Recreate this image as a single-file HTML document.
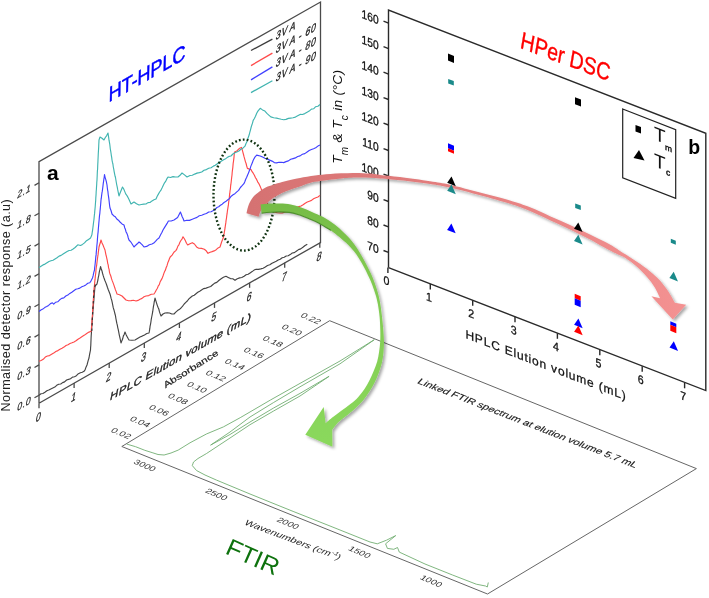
<!DOCTYPE html>
<html><head><meta charset="utf-8"><style>html,body{margin:0;padding:0;background:#fff;}svg{display:block;}</style></head><body>
<svg width="709" height="598" viewBox="0 0 709 598">
<defs>
<filter id="sh" x="-20%" y="-20%" width="140%" height="140%"><feGaussianBlur in="SourceAlpha" stdDeviation="1.6"/><feOffset dx="1.5" dy="2" result="b"/><feFlood flood-color="#000" flood-opacity="0.35"/><feComposite in2="b" operator="in"/><feMerge><feMergeNode/><feMergeNode in="SourceGraphic"/></feMerge></filter>
</defs>
<rect width="709" height="598" fill="#fff"/>
<g fill="none" stroke="#4a4a4a" stroke-width="1.3">
<polyline points="39.0,403.2 39.0,161.7 320.5,2.0 320.5,242.5 39.0,403.2"/>
<line x1="39.0" y1="403.2" x2="39.0" y2="408.2"/>
<line x1="74.1" y1="383.1" x2="74.1" y2="388.1"/>
<line x1="109.2" y1="363.1" x2="109.2" y2="368.1"/>
<line x1="144.3" y1="343.0" x2="144.3" y2="348.0"/>
<line x1="179.4" y1="323.0" x2="179.4" y2="328.0"/>
<line x1="214.5" y1="302.9" x2="214.5" y2="307.9"/>
<line x1="249.6" y1="282.8" x2="249.6" y2="287.8"/>
<line x1="284.7" y1="262.8" x2="284.7" y2="267.8"/>
<line x1="319.8" y1="242.7" x2="319.8" y2="247.7"/>
<line x1="34.5" y1="397.8" x2="39" y2="395.2"/>
<line x1="34.5" y1="367.5" x2="39" y2="364.9"/>
<line x1="34.5" y1="337.1" x2="39" y2="334.5"/>
<line x1="34.5" y1="306.8" x2="39" y2="304.2"/>
<line x1="34.5" y1="276.4" x2="39" y2="273.8"/>
<line x1="34.5" y1="246.1" x2="39" y2="243.5"/>
<line x1="34.5" y1="215.8" x2="39" y2="213.2"/>
<line x1="34.5" y1="185.4" x2="39" y2="182.8"/>
</g>
<g fill="none" stroke-width="1.15" stroke-linejoin="round">
<polyline stroke="#444" points="39.0,395.2 41.0,393.7 42.9,393.5 44.9,392.3 46.9,390.7 48.8,390.0 50.8,388.9 52.8,388.0 54.8,387.1 56.7,385.3 58.7,384.2 60.7,384.0 62.6,382.6 64.6,381.9 66.6,380.0 68.5,379.4 70.5,378.7 72.5,377.1 74.5,376.8 76.4,375.7 78.4,373.7 80.4,372.7 82.3,372.2 84.3,371.1 85.2,369.5 86.1,366.9 87.0,365.0 87.7,362.4 88.3,360.2 89.0,358.0 89.5,354.8 90.0,352.4 90.5,350.0 90.6,347.6 90.8,345.2 90.9,342.6 91.0,340.2 91.1,337.8 91.2,335.7 91.4,333.1 91.5,331.0 91.7,328.1 91.8,326.7 92.0,324.1 92.2,321.8 92.3,319.0 92.5,317.5 92.7,315.1 92.8,311.9 93.0,310.0 93.2,307.4 93.4,305.4 93.6,303.0 93.8,300.9 94.0,297.9 94.2,296.0 94.4,293.4 94.6,290.6 94.8,288.5 95.0,286.0 97.0,284.0 97.4,282.2 97.9,280.0 98.3,277.4 98.8,275.3 99.2,272.6 99.6,270.6 100.1,269.0 100.5,266.5 101.2,268.7 101.9,270.7 102.6,273.5 103.3,275.9 104.0,278.0 104.9,280.5 105.7,282.4 106.6,284.8 107.4,287.2 108.3,289.7 109.1,291.7 110.0,294.0 110.6,296.1 111.1,298.4 111.7,300.1 112.2,302.4 112.8,305.3 113.3,307.9 113.9,309.7 114.4,311.7 115.0,314.0 115.5,315.9 115.9,318.5 116.4,321.2 116.8,323.2 117.3,325.2 117.8,327.8 118.2,329.3 118.7,331.9 119.2,334.6 119.6,336.4 120.1,338.5 120.5,340.5 121.0,343.0 121.8,340.9 122.6,339.1 123.4,335.9 124.2,334.5 125.0,332.0 126.0,334.4 127.0,336.4 128.0,338.3 129.0,340.0 132.0,340.3 135.0,340.0 137.5,338.5 140.0,337.0 142.2,336.1 144.5,334.9 146.8,333.5 149.0,333.0 149.4,331.2 149.8,328.7 150.1,326.1 150.5,324.3 150.9,322.0 151.2,319.7 151.6,317.5 152.0,315.5 152.4,313.4 152.8,311.2 153.1,308.9 153.5,306.2 153.9,304.3 154.2,302.0 154.6,300.3 155.0,298.0 155.8,300.6 156.5,302.8 157.2,305.1 158.0,307.3 158.8,309.0 159.5,311.9 160.2,313.9 161.0,316.0 163.0,314.0 165.0,313.0 167.2,312.7 169.5,313.0 171.8,314.0 174.0,314.0 175.8,312.2 177.5,310.6 179.2,309.6 181.0,308.0 182.6,306.1 184.2,304.0 185.8,302.4 187.3,301.0 188.9,298.9 190.5,297.5 192.3,296.0 194.2,295.2 196.0,293.7 197.8,292.3 199.7,291.2 201.5,290.0 203.8,288.6 206.1,288.1 208.4,287.3 210.7,286.5 212.7,284.7 214.7,283.1 216.8,282.4 218.8,280.5 220.8,279.0 223.4,277.3 226.0,276.3 228.2,277.4 230.5,278.6 232.8,278.8 235.0,280.3 237.3,278.8 239.6,277.9 241.8,277.5 244.1,276.3 246.1,274.7 248.1,274.2 250.1,272.9 252.1,271.6 254.1,270.1 256.1,269.2 258.4,269.4 260.8,268.9 263.1,268.2 265.3,267.0 267.5,265.5 269.8,264.8 272.0,263.3 274.2,262.2 276.2,261.3 278.2,260.0 280.2,259.3 282.2,257.7 284.2,257.2 286.2,256.0 288.2,255.7 290.2,254.6 292.3,253.0 294.3,252.6 296.3,251.2 298.5,249.6 300.7,248.9 302.9,247.3 305.1,245.5 307.3,244.2"/>
<polyline stroke="#ff4a4a" points="39.0,361.2 41.1,360.5 43.2,359.3 45.3,357.1 47.4,356.0 49.5,355.6 51.6,354.3 53.7,353.1 55.8,351.5 57.9,350.6 60.0,349.3 62.0,348.3 64.0,347.1 66.0,345.5 68.0,344.7 70.0,343.5 72.0,342.8 74.0,341.9 76.0,340.8 78.0,339.2 80.0,338.0 82.2,336.6 84.5,335.1 86.7,333.5 89.0,332.1 91.2,331.3 91.4,328.8 91.6,326.2 91.8,323.8 91.9,321.8 92.1,319.0 92.3,316.5 92.5,314.0 92.6,311.3 92.8,308.7 92.9,306.6 93.1,304.0 93.2,302.0 93.3,300.1 93.5,297.4 93.6,294.5 93.8,292.8 93.9,290.0 94.1,288.1 94.4,285.8 94.6,283.8 94.8,281.4 95.1,279.2 95.3,276.5 95.5,275.0 95.8,272.7 96.0,270.0 96.3,267.3 96.6,265.7 96.9,263.3 97.2,260.8 97.5,258.5 97.8,256.2 98.1,254.4 98.4,251.6 98.7,249.7 99.0,247.0 99.7,244.5 100.3,242.8 101.0,240.0 102.0,242.9 103.0,245.0 104.0,247.6 105.0,250.0 105.5,252.6 105.9,254.6 106.4,256.5 106.8,258.4 107.3,260.7 107.7,263.3 108.2,264.9 108.6,267.9 109.1,269.4 109.5,272.3 110.0,274.0 110.8,276.0 111.6,278.9 112.3,280.9 113.1,282.9 113.9,285.1 114.7,287.5 115.4,289.7 116.2,291.6 117.0,294.0 119.5,294.7 122.0,296.0 124.0,298.0 126.0,300.0 128.5,300.7 131.0,300.6 133.5,300.3 136.0,301.0 138.0,300.4 140.0,299.2 142.0,298.4 144.0,296.7 146.0,296.0 148.7,295.6 151.3,294.2 154.0,294.0 155.1,292.3 156.3,290.0 157.4,288.3 158.3,285.9 159.3,284.6 160.2,281.7 161.1,280.1 162.1,278.4 163.0,276.0 163.8,273.6 164.6,271.5 165.4,270.1 166.2,267.5 167.0,265.7 167.8,262.8 168.6,261.1 169.4,258.8 170.2,257.0 172.1,255.1 173.9,252.3 175.8,250.6 176.8,249.1 177.9,246.1 178.9,244.9 179.9,242.2 180.9,240.5 182.0,239.1 183.0,236.8 184.2,238.5 185.3,240.6 186.5,243.2 187.7,245.0 190.0,243.7 192.3,242.7 194.4,244.0 196.6,246.9 198.7,248.2 201.5,248.4 204.3,249.3 206.2,250.8 208.0,253.3 210.1,252.2 212.1,251.6 214.1,250.9 216.2,249.7 218.1,247.9 220.0,247.0 220.9,244.3 221.8,241.4 222.7,239.3 223.6,236.8 224.0,234.7 224.3,232.4 224.7,230.2 225.1,227.7 225.4,225.4 225.8,222.9 226.1,220.3 226.5,218.0 226.8,215.4 227.1,213.7 227.4,211.0 227.8,208.6 228.1,206.7 228.4,204.9 228.7,201.8 229.0,200.0 229.3,197.8 229.5,195.3 229.8,193.2 230.1,190.5 230.4,189.1 230.6,186.1 230.9,184.2 231.2,181.7 231.5,179.0 231.7,177.3 232.0,175.0 232.2,172.3 232.5,169.9 232.8,167.6 233.0,165.4 233.2,163.1 233.5,161.3 233.8,158.9 234.0,157.1 234.2,154.8 234.5,152.0 236.8,151.0 239.2,148.6 241.5,147.4 242.2,149.7 242.8,151.8 243.5,154.5 244.1,156.9 244.8,159.4 245.4,161.6 246.1,163.5 246.7,166.0 247.4,168.4 251.0,169.6 252.1,171.7 253.2,173.2 254.4,175.2 255.5,177.7 256.6,179.4 257.8,182.1 258.9,183.7 260.0,186.0 260.8,187.9 261.7,190.3 262.5,192.7 263.3,195.0 264.2,197.7 265.0,200.0 266.4,202.2 267.8,204.2 269.2,206.8 270.6,208.5 272.0,211.0 274.7,212.1 277.3,212.8 280.0,213.0 282.3,212.9 284.7,212.3 287.0,212.0 289.0,211.0 291.0,210.1 293.0,208.5 295.0,208.0 298.0,206.9 301.0,206.0 303.1,204.8 305.2,203.2 307.3,202.0 309.4,201.2 311.5,200.4 313.6,198.7 315.8,197.7 317.9,197.0 320.0,195.4"/>
<polyline stroke="#4040ff" points="39.0,311.5 40.9,310.0 42.8,309.1 44.7,307.6 46.7,306.6 48.6,305.4 50.5,303.6 52.4,302.8 53.7,304.1 55.7,302.2 57.7,301.8 59.7,299.8 61.7,298.4 63.8,297.9 65.8,296.0 67.8,295.1 69.8,293.4 71.8,292.2 73.8,290.7 75.8,289.3 77.8,288.8 79.8,288.1 81.8,286.7 83.8,286.0 85.8,284.9 87.8,283.2 89.8,282.7 91.2,280.6 92.5,278.0 93.2,275.4 93.8,272.4 94.5,270.0 94.7,267.3 94.9,266.0 95.2,263.3 95.4,261.4 95.6,259.3 95.8,256.9 96.1,254.9 96.3,252.1 96.5,250.0 96.7,248.0 96.9,245.3 97.1,243.6 97.3,241.2 97.5,238.1 97.7,235.8 97.9,233.6 98.1,232.1 98.3,229.2 98.5,227.0 98.7,224.9 98.9,222.3 99.1,220.3 99.3,217.9 99.5,215.6 99.8,213.6 100.0,211.3 100.2,209.4 100.4,207.0 100.6,205.0 100.8,202.6 101.0,200.0 101.3,198.2 101.6,195.6 102.0,192.7 102.3,191.2 102.6,189.0 102.9,186.6 103.2,183.9 103.5,181.8 103.9,178.9 104.2,177.3 104.5,174.6 105.1,177.3 105.8,179.6 106.4,181.9 107.0,185.0 107.3,187.7 107.6,190.1 107.9,191.4 108.2,194.5 108.5,196.4 108.8,198.4 109.1,200.9 109.4,203.7 109.7,206.1 110.0,208.0 111.0,210.5 112.0,214.0 113.6,215.7 115.2,216.7 116.8,219.0 118.4,220.2 120.0,222.0 122.0,223.9 124.0,225.0 124.7,227.7 125.4,229.3 126.1,232.0 126.9,233.4 127.6,235.2 128.3,238.0 129.0,240.0 130.7,241.8 132.3,244.3 134.0,247.0 135.7,245.2 137.3,243.8 139.0,242.0 140.7,243.3 142.3,244.8 144.0,247.0 146.7,246.4 149.3,244.8 152.0,244.0 153.8,243.0 155.5,241.4 157.2,239.4 159.0,238.0 160.0,236.0 161.0,234.0 162.0,232.2 163.0,230.0 164.3,227.9 165.7,225.6 167.1,223.4 168.4,221.0 171.2,221.0 174.0,220.0 177.6,217.5 179.0,214.8 180.4,212.0 181.3,214.2 182.2,216.7 183.1,218.5 184.0,221.0 186.8,220.2 189.5,220.4 192.3,219.3 194.7,218.3 197.0,217.4 199.3,215.8 201.7,215.3 204.0,214.3 206.4,213.5 208.7,212.0 211.1,211.7 213.4,210.6 215.2,209.4 216.9,207.5 218.7,206.8 220.4,205.3 222.2,204.2 224.0,202.5 225.7,201.6 227.5,200.0 229.4,198.6 231.2,196.2 233.1,194.7 234.9,193.7 236.8,191.9 238.6,190.4 240.4,187.5 242.1,185.7 243.9,183.7 244.8,181.7 245.7,179.3 246.7,177.2 247.6,175.0 248.5,173.1 249.3,170.8 250.1,168.9 250.8,166.4 251.6,164.4 252.4,162.6 253.2,160.2 254.9,157.1 256.7,155.1 260.2,156.0 262.6,157.1 264.9,158.3 267.3,159.1 269.6,160.1 272.0,161.1 274.3,162.6 276.6,162.9 279.0,162.3 281.4,162.3 283.7,162.6 286.0,161.6 288.4,160.9 290.7,159.3 293.1,158.6 295.4,157.9 297.7,156.5 300.1,155.9 302.4,154.3 304.8,153.6 307.1,152.0 309.2,150.5 311.4,149.5 313.6,148.7 315.7,147.8 317.9,146.1 320.0,145.0"/>
<polyline stroke="#40b4b0" points="39.0,267.6 41.0,266.2 43.0,264.9 45.0,264.1 47.0,262.8 49.0,261.5 51.0,260.8 53.0,260.2 55.0,259.0 57.0,257.8 59.1,256.1 61.1,255.4 63.1,254.0 65.1,252.7 67.1,251.5 69.1,250.5 71.1,250.2 73.1,249.0 75.1,247.5 77.8,244.8 80.5,245.5 82.5,244.4 84.5,242.9 86.5,240.7 88.5,239.4 90.5,238.1 91.9,234.8 92.2,232.5 92.6,230.1 92.9,227.8 93.2,225.4 93.6,222.0 93.9,220.0 94.1,217.9 94.3,215.8 94.6,213.4 94.8,210.8 95.0,208.9 95.2,206.7 95.4,204.0 95.5,202.7 95.7,200.4 95.8,197.9 96.0,195.4 96.1,193.8 96.2,191.2 96.4,189.3 96.5,187.1 96.7,184.5 96.8,182.1 97.0,180.0 97.1,177.9 97.2,175.5 97.3,173.0 97.4,170.9 97.6,169.2 97.7,166.2 97.8,163.9 97.9,162.4 98.0,159.8 98.1,157.8 98.2,155.5 98.3,153.2 98.4,151.7 98.6,148.6 98.7,146.6 98.8,144.1 98.9,142.4 99.0,140.0 100.0,137.0 102.0,138.3 104.0,140.0 105.3,137.5 106.7,135.6 108.0,133.0 108.3,135.1 108.7,137.6 109.0,140.2 109.3,141.6 109.7,143.8 110.0,146.2 110.3,149.0 110.7,151.1 111.0,153.0 111.3,155.3 111.7,157.4 112.0,160.0 112.4,162.2 112.9,164.0 113.3,167.0 113.8,169.4 114.2,171.8 114.6,173.8 115.1,176.3 115.5,177.5 115.9,180.0 116.4,183.0 116.8,185.1 117.2,186.9 117.7,189.7 118.1,191.6 118.6,194.1 119.0,196.0 119.9,193.5 120.8,191.2 121.6,189.2 122.5,187.0 123.6,188.7 124.6,191.1 125.7,193.9 126.8,195.3 127.8,197.1 128.9,199.2 129.9,201.5 131.0,204.0 134.0,202.0 136.5,203.8 139.0,205.0 141.3,204.5 143.7,204.1 146.0,204.0 148.0,202.6 150.0,202.5 152.0,200.9 154.0,199.7 156.0,199.0 157.2,196.3 158.4,194.1 159.6,192.0 160.8,190.4 162.0,188.0 163.2,185.4 164.4,183.1 165.6,181.4 166.8,178.9 168.0,177.0 170.5,177.5 173.0,176.6 175.5,177.0 178.0,177.0 180.0,175.3 182.0,173.0 184.5,174.9 187.0,177.0 190.0,175.5 192.3,175.3 194.7,174.1 197.0,173.1 199.4,172.6 201.7,172.0 204.0,170.3 206.4,169.6 208.7,168.2 211.1,167.7 213.4,166.1 215.3,165.3 217.3,163.8 219.2,162.1 221.2,161.2 223.2,160.0 225.1,159.1 227.1,157.6 229.0,156.4 230.9,156.0 232.9,154.0 234.9,152.7 236.8,152.0 238.9,151.0 240.9,149.2 242.9,148.2 245.0,146.2 245.9,143.7 246.8,141.9 247.6,139.3 248.5,136.8 249.2,134.8 249.8,132.4 250.5,129.8 251.2,127.0 251.9,124.8 252.5,123.2 253.2,120.4 254.4,118.5 255.5,116.2 256.7,113.2 257.9,111.1 260.2,108.3 262.5,109.9 264.9,111.1 266.9,113.4 268.8,115.1 270.8,116.9 273.7,117.8 276.6,118.1 279.0,118.7 281.3,119.3 283.7,119.7 286.0,119.4 288.4,118.4 290.7,118.1 293.0,117.8 295.4,117.1 297.7,115.8 300.1,114.4 302.4,114.5 304.8,113.6 307.1,112.2 309.2,111.1 311.4,109.1 313.6,108.8 315.7,106.7 317.9,106.3 320.0,104.5"/>
<polyline stroke="#333" stroke-dasharray="2.5 3" points="91.8,331 92.6,314 94,290 95.5,284"/>
</g>
<g stroke-width="1.3">
<line x1="251" y1="50.5" x2="272.4" y2="39.1" stroke="#3c3c3c"/>
<line x1="251" y1="65.6" x2="272.4" y2="53.1" stroke="#ff4a4a"/>
<line x1="251" y1="79.9" x2="272.4" y2="66.9" stroke="#4040ff"/>
<line x1="251" y1="92.6" x2="272.4" y2="80.8" stroke="#40b4b0"/>
</g>
<text transform="matrix(0.7000,-0.3998,-0.2200,1.0000,275.30,40.20)" font-family="Liberation Sans, sans-serif" font-size="12.3" fill="#222" letter-spacing="1.1" stroke="#222" stroke-width="0.35">3V<tspan dx="2.5">A</tspan></text>
<text transform="matrix(0.7000,-0.3998,-0.2200,1.0000,275.30,53.60)" font-family="Liberation Sans, sans-serif" font-size="12.3" fill="#222" letter-spacing="1.1" stroke="#222" stroke-width="0.35">3V<tspan dx="2.5">A</tspan><tspan dx="-1.2"> - 60</tspan></text>
<text transform="matrix(0.7000,-0.3998,-0.2200,1.0000,275.30,67.60)" font-family="Liberation Sans, sans-serif" font-size="12.3" fill="#222" letter-spacing="1.1" stroke="#222" stroke-width="0.35">3V<tspan dx="2.5">A</tspan><tspan dx="-1.2"> - 80</tspan></text>
<text transform="matrix(0.7000,-0.3998,-0.2200,1.0000,275.30,81.90)" font-family="Liberation Sans, sans-serif" font-size="12.3" fill="#222" letter-spacing="1.1" stroke="#222" stroke-width="0.35">3V<tspan dx="2.5">A</tspan><tspan dx="-1.2"> - 90</tspan></text>
<text transform="matrix(0.7800,-0.4455,-0.2000,1.0000,30.70,403.20)" font-family="Liberation Sans, sans-serif" font-size="11" fill="#222" text-anchor="end" letter-spacing="0.9" stroke="#222" stroke-width="0.25">0.0</text>
<text transform="matrix(0.7800,-0.4455,-0.2000,1.0000,30.70,372.86)" font-family="Liberation Sans, sans-serif" font-size="11" fill="#222" text-anchor="end" letter-spacing="0.9" stroke="#222" stroke-width="0.25">0.3</text>
<text transform="matrix(0.7800,-0.4455,-0.2000,1.0000,30.70,342.52)" font-family="Liberation Sans, sans-serif" font-size="11" fill="#222" text-anchor="end" letter-spacing="0.9" stroke="#222" stroke-width="0.25">0.6</text>
<text transform="matrix(0.7800,-0.4455,-0.2000,1.0000,30.70,312.18)" font-family="Liberation Sans, sans-serif" font-size="11" fill="#222" text-anchor="end" letter-spacing="0.9" stroke="#222" stroke-width="0.25">0.9</text>
<text transform="matrix(0.7800,-0.4455,-0.2000,1.0000,30.70,281.84)" font-family="Liberation Sans, sans-serif" font-size="11" fill="#222" text-anchor="end" letter-spacing="0.9" stroke="#222" stroke-width="0.25">1.2</text>
<text transform="matrix(0.7800,-0.4455,-0.2000,1.0000,30.70,251.50)" font-family="Liberation Sans, sans-serif" font-size="11" fill="#222" text-anchor="end" letter-spacing="0.9" stroke="#222" stroke-width="0.25">1.5</text>
<text transform="matrix(0.7800,-0.4455,-0.2000,1.0000,30.70,221.16)" font-family="Liberation Sans, sans-serif" font-size="11" fill="#222" text-anchor="end" letter-spacing="0.9" stroke="#222" stroke-width="0.25">1.8</text>
<text transform="matrix(0.7800,-0.4455,-0.2000,1.0000,30.70,190.82)" font-family="Liberation Sans, sans-serif" font-size="11" fill="#222" text-anchor="end" letter-spacing="0.9" stroke="#222" stroke-width="0.25">2.1</text>
<text transform="matrix(0.7000,-0.3998,-0.2000,1.0000,37.70,421.20)" font-family="Liberation Sans, sans-serif" font-size="12.4" fill="#222" text-anchor="middle" stroke="#222" stroke-width="0.3">0</text>
<text transform="matrix(0.7000,-0.3998,-0.2000,1.0000,72.80,401.14)" font-family="Liberation Sans, sans-serif" font-size="12.4" fill="#222" text-anchor="middle" stroke="#222" stroke-width="0.3">1</text>
<text transform="matrix(0.7000,-0.3998,-0.2000,1.0000,107.90,381.08)" font-family="Liberation Sans, sans-serif" font-size="12.4" fill="#222" text-anchor="middle" stroke="#222" stroke-width="0.3">2</text>
<text transform="matrix(0.7000,-0.3998,-0.2000,1.0000,143.00,361.02)" font-family="Liberation Sans, sans-serif" font-size="12.4" fill="#222" text-anchor="middle" stroke="#222" stroke-width="0.3">3</text>
<text transform="matrix(0.7000,-0.3998,-0.2000,1.0000,178.10,340.96)" font-family="Liberation Sans, sans-serif" font-size="12.4" fill="#222" text-anchor="middle" stroke="#222" stroke-width="0.3">4</text>
<text transform="matrix(0.7000,-0.3998,-0.2000,1.0000,213.20,320.90)" font-family="Liberation Sans, sans-serif" font-size="12.4" fill="#222" text-anchor="middle" stroke="#222" stroke-width="0.3">5</text>
<text transform="matrix(0.7000,-0.3998,-0.2000,1.0000,248.30,300.84)" font-family="Liberation Sans, sans-serif" font-size="12.4" fill="#222" text-anchor="middle" stroke="#222" stroke-width="0.3">6</text>
<text transform="matrix(0.7000,-0.3998,-0.2000,1.0000,283.40,280.78)" font-family="Liberation Sans, sans-serif" font-size="12.4" fill="#222" text-anchor="middle" stroke="#222" stroke-width="0.3">7</text>
<text transform="matrix(0.7000,-0.3998,-0.2000,1.0000,318.50,260.72)" font-family="Liberation Sans, sans-serif" font-size="12.4" fill="#222" text-anchor="middle" stroke="#222" stroke-width="0.3">8</text>
<text transform="matrix(0.9700,-0.5541,-0.1900,1.0000,109.60,400.80)" font-family="Liberation Sans, sans-serif" font-size="11.6" fill="#222" letter-spacing="0.3" stroke="#222" stroke-width="0.42"><tspan letter-spacing="0.5">HPLC </tspan>Elution volume (mL)</text>
<text transform="matrix(0.0000,-1.0000,1.0000,0.0000,10.40,411.50)" font-family="Liberation Sans, sans-serif" font-size="12.6" fill="#222" letter-spacing="0.45">Normalised detector response (a.u)</text>
<text transform="matrix(0.8500,-0.4855,-0.0200,1.0000,108.60,102.60)" font-family="Liberation Sans, sans-serif" font-size="21.4" fill="#0000ff" letter-spacing="-0.2" stroke="#0000ff" stroke-width="0.5">HT-HPLC</text>
<text transform="matrix(1.0000,0.0000,0.0000,1.0000,47.00,179.60)" font-family="Liberation Sans, sans-serif" font-size="21" fill="#000" font-weight="bold">a</text>
<g fill="none" stroke="#2a2a2a" stroke-width="1.4">
<polyline points="388.5,267.6 388.5,10.0 705.8,133.3 705.8,390.6 388.5,267.6"/>
<line x1="383.5" y1="21.2" x2="388.5" y2="23.1"/>
<line x1="383.5" y1="46.7" x2="388.5" y2="48.6"/>
<line x1="383.5" y1="72.2" x2="388.5" y2="74.1"/>
<line x1="383.5" y1="97.6" x2="388.5" y2="99.5"/>
<line x1="383.5" y1="123.1" x2="388.5" y2="125.0"/>
<line x1="383.5" y1="148.6" x2="388.5" y2="150.5"/>
<line x1="383.5" y1="174.1" x2="388.5" y2="176.0"/>
<line x1="383.5" y1="199.6" x2="388.5" y2="201.5"/>
<line x1="383.5" y1="225.0" x2="388.5" y2="226.9"/>
<line x1="383.5" y1="250.5" x2="388.5" y2="252.4"/>
<line x1="387.9" y1="267.4" x2="387.9" y2="272.9"/>
<line x1="430.3" y1="283.9" x2="430.3" y2="289.4"/>
<line x1="472.7" y1="300.3" x2="472.7" y2="305.8"/>
<line x1="515.0" y1="316.8" x2="515.0" y2="322.3"/>
<line x1="557.4" y1="333.3" x2="557.4" y2="338.8"/>
<line x1="599.8" y1="349.8" x2="599.8" y2="355.3"/>
<line x1="642.2" y1="366.3" x2="642.2" y2="371.8"/>
<line x1="684.6" y1="382.8" x2="684.6" y2="388.3"/>
</g>
<text transform="matrix(0.8500,0.3306,-0.0000,1.0000,378.60,24.41)" font-family="Liberation Sans, sans-serif" font-size="12" fill="#111" text-anchor="end" stroke="#111" stroke-width="0.3">160</text>
<text transform="matrix(0.8500,0.3306,-0.0000,1.0000,378.60,49.89)" font-family="Liberation Sans, sans-serif" font-size="12" fill="#111" text-anchor="end" stroke="#111" stroke-width="0.3">150</text>
<text transform="matrix(0.8500,0.3306,-0.0000,1.0000,378.60,75.37)" font-family="Liberation Sans, sans-serif" font-size="12" fill="#111" text-anchor="end" stroke="#111" stroke-width="0.3">140</text>
<text transform="matrix(0.8500,0.3306,-0.0000,1.0000,378.60,100.85)" font-family="Liberation Sans, sans-serif" font-size="12" fill="#111" text-anchor="end" stroke="#111" stroke-width="0.3">130</text>
<text transform="matrix(0.8500,0.3306,-0.0000,1.0000,378.60,126.33)" font-family="Liberation Sans, sans-serif" font-size="12" fill="#111" text-anchor="end" stroke="#111" stroke-width="0.3">120</text>
<text transform="matrix(0.8500,0.3306,-0.0000,1.0000,378.60,151.81)" font-family="Liberation Sans, sans-serif" font-size="12" fill="#111" text-anchor="end" stroke="#111" stroke-width="0.3">110</text>
<text transform="matrix(0.8500,0.3306,-0.0000,1.0000,378.60,177.29)" font-family="Liberation Sans, sans-serif" font-size="12" fill="#111" text-anchor="end" stroke="#111" stroke-width="0.3">100</text>
<text transform="matrix(0.8500,0.3306,-0.0000,1.0000,378.60,202.77)" font-family="Liberation Sans, sans-serif" font-size="12" fill="#111" text-anchor="end" stroke="#111" stroke-width="0.3">90</text>
<text transform="matrix(0.8500,0.3306,-0.0000,1.0000,378.60,228.25)" font-family="Liberation Sans, sans-serif" font-size="12" fill="#111" text-anchor="end" stroke="#111" stroke-width="0.3">80</text>
<text transform="matrix(0.8500,0.3306,-0.0000,1.0000,378.60,253.73)" font-family="Liberation Sans, sans-serif" font-size="12" fill="#111" text-anchor="end" stroke="#111" stroke-width="0.3">70</text>
<text transform="matrix(0.9000,0.3501,-0.0000,1.0000,386.50,284.67)" font-family="Liberation Sans, sans-serif" font-size="11.8" fill="#111" text-anchor="middle" stroke="#111" stroke-width="0.3">0</text>
<text transform="matrix(0.9000,0.3501,-0.0000,1.0000,428.88,301.15)" font-family="Liberation Sans, sans-serif" font-size="11.8" fill="#111" text-anchor="middle" stroke="#111" stroke-width="0.3">1</text>
<text transform="matrix(0.9000,0.3501,-0.0000,1.0000,471.26,317.64)" font-family="Liberation Sans, sans-serif" font-size="11.8" fill="#111" text-anchor="middle" stroke="#111" stroke-width="0.3">2</text>
<text transform="matrix(0.9000,0.3501,-0.0000,1.0000,513.64,334.12)" font-family="Liberation Sans, sans-serif" font-size="11.8" fill="#111" text-anchor="middle" stroke="#111" stroke-width="0.3">3</text>
<text transform="matrix(0.9000,0.3501,-0.0000,1.0000,556.02,350.61)" font-family="Liberation Sans, sans-serif" font-size="11.8" fill="#111" text-anchor="middle" stroke="#111" stroke-width="0.3">4</text>
<text transform="matrix(0.9000,0.3501,-0.0000,1.0000,598.40,367.10)" font-family="Liberation Sans, sans-serif" font-size="11.8" fill="#111" text-anchor="middle" stroke="#111" stroke-width="0.3">5</text>
<text transform="matrix(0.9000,0.3501,-0.0000,1.0000,640.78,383.58)" font-family="Liberation Sans, sans-serif" font-size="11.8" fill="#111" text-anchor="middle" stroke="#111" stroke-width="0.3">6</text>
<text transform="matrix(0.9000,0.3501,-0.0000,1.0000,683.16,400.07)" font-family="Liberation Sans, sans-serif" font-size="11.8" fill="#111" text-anchor="middle" stroke="#111" stroke-width="0.3">7</text>
<text transform="matrix(1.0000,0.3890,-0.0000,1.0000,465.40,337.90)" font-family="Liberation Sans, sans-serif" font-size="12" fill="#111" letter-spacing="0.8" stroke="#111" stroke-width="0.25">HPLC Elution volume (mL)</text>
<text transform="matrix(0,-1,1,0,342,163.8)" font-family="Liberation Sans, sans-serif" font-style="italic" font-size="13.7" fill="#111" letter-spacing="0.3">T<tspan font-size="10" dy="5.5">m</tspan><tspan dy="-5.5"> &amp; T</tspan><tspan font-size="10" dy="5.5">c</tspan><tspan dy="-5.5"> in (°C)</tspan></text>
<text transform="matrix(0.8200,0.3080,-0.1700,1.0000,519.60,47.70)" font-family="Liberation Sans, sans-serif" font-size="23.3" fill="#ff0000" stroke="#ff0000" stroke-width="0.35">HPer DSC</text>
<text transform="matrix(1.0000,0.0000,0.0000,1.0000,688.30,154.00)" font-family="Liberation Sans, sans-serif" font-size="19.5" fill="#000" font-weight="bold">b</text>
<polygon points="622.7,109.0 675.7,129.7 675.7,198.3 622.7,177.9" fill="none" stroke="#222" stroke-width="1.2"/>
<polygon points="635.5,125.0 641.0,127.0 641.0,133.5 635.5,131.5" fill="#000"/>
<polygon points="639.0,150.0 644.5,160.5 633.5,158.0" fill="#000"/>
<text transform="matrix(1.0000,0.3890,-0.0000,1.0000,654.00,139.60)" font-family="Liberation Sans, sans-serif" font-size="19" fill="#111">T</text>
<text transform="matrix(1.0000,0.3890,-0.0000,1.0000,654.00,166.20)" font-family="Liberation Sans, sans-serif" font-size="19" fill="#111">T</text>
<text transform="matrix(1.0000,0.3890,-0.0000,1.0000,665.00,149.80)" font-family="Liberation Sans, sans-serif" font-size="8.5" fill="#111" stroke="#111" stroke-width="0.4">m</text>
<text transform="matrix(1.0000,0.3890,-0.0000,1.0000,666.00,174.50)" font-family="Liberation Sans, sans-serif" font-size="8.5" fill="#111" stroke="#111" stroke-width="0.4">c</text>
<polygon points="121.8,446.5 329.7,320.7 696.4,468.6 487.5,594.0" fill="none" stroke="#666" stroke-width="1"/>
<g fill="none" stroke="#72ae72" stroke-width="0.9" stroke-linejoin="round">
<polyline points="126.8,444.1 135.6,446.7 144.8,450.3 152.1,452.6 158.0,454.5 164.1,455.0 171.0,453.0 178.2,450.1 190.0,442.8 206.4,434.0 223.4,426.9 240.2,417.7 270.3,400.1 300.0,383.4 340.0,361.0 374.3,339.7 340.0,363.8 300.0,386.8 273.6,402.5 250.0,417.0 230.0,432.0 210.6,445.1 230.0,434.5 250.0,422.0 273.6,408.0 300.0,393.4 329.1,376.3 300.0,396.0 273.6,411.0 250.0,424.7 230.0,438.0 206.4,453.6 198.0,458.5 193.5,462.0 192.3,465.6 196.5,470.5 205.0,475.0 216.3,480.0 250.0,494.0 293.1,511.4 330.0,526.0 370.0,542.0 377.3,543.8 386.5,540.2 395.7,535.6 385.6,543.8 387.4,548.4 393.8,549.3 397.5,547.5 399.3,552.1 425.0,564.0 452.5,575.0 476.3,584.2 485.5,586.0 487.3,587.0 488.3,582.5"/>
</g>
<text transform="matrix(1.0000,0.4200,-0.6000,0.6200,119.20,435.30)" font-family="Liberation Sans, sans-serif" font-size="9.5" fill="#333" text-anchor="middle">0.02</text>
<text transform="matrix(1.0000,0.4200,-0.6000,0.6200,138.18,423.82)" font-family="Liberation Sans, sans-serif" font-size="9.5" fill="#333" text-anchor="middle">0.04</text>
<text transform="matrix(1.0000,0.4200,-0.6000,0.6200,157.16,412.34)" font-family="Liberation Sans, sans-serif" font-size="9.5" fill="#333" text-anchor="middle">0.06</text>
<text transform="matrix(1.0000,0.4200,-0.6000,0.6200,176.14,400.86)" font-family="Liberation Sans, sans-serif" font-size="9.5" fill="#333" text-anchor="middle">0.08</text>
<text transform="matrix(1.0000,0.4200,-0.6000,0.6200,195.12,389.38)" font-family="Liberation Sans, sans-serif" font-size="9.5" fill="#333" text-anchor="middle">0.10</text>
<text transform="matrix(1.0000,0.4200,-0.6000,0.6200,214.10,377.90)" font-family="Liberation Sans, sans-serif" font-size="9.5" fill="#333" text-anchor="middle">0.12</text>
<text transform="matrix(1.0000,0.4200,-0.6000,0.6200,233.08,366.42)" font-family="Liberation Sans, sans-serif" font-size="9.5" fill="#333" text-anchor="middle">0.14</text>
<text transform="matrix(1.0000,0.4200,-0.6000,0.6200,252.06,354.94)" font-family="Liberation Sans, sans-serif" font-size="9.5" fill="#333" text-anchor="middle">0.16</text>
<text transform="matrix(1.0000,0.4200,-0.6000,0.6200,271.04,343.46)" font-family="Liberation Sans, sans-serif" font-size="9.5" fill="#333" text-anchor="middle">0.18</text>
<text transform="matrix(1.0000,0.4200,-0.6000,0.6200,290.02,331.98)" font-family="Liberation Sans, sans-serif" font-size="9.5" fill="#333" text-anchor="middle">0.20</text>
<text transform="matrix(1.0000,0.4200,-0.6000,0.6200,309.00,320.50)" font-family="Liberation Sans, sans-serif" font-size="9.5" fill="#333" text-anchor="middle">0.22</text>
<text transform="matrix(1.0000,0.4200,-0.6000,0.6200,143.00,467.40)" font-family="Liberation Sans, sans-serif" font-size="9.2" fill="#333" text-anchor="middle">3000</text>
<text transform="matrix(1.0000,0.4200,-0.6000,0.6200,214.60,496.30)" font-family="Liberation Sans, sans-serif" font-size="9.2" fill="#333" text-anchor="middle">2500</text>
<text transform="matrix(1.0000,0.4200,-0.6000,0.6200,286.20,525.20)" font-family="Liberation Sans, sans-serif" font-size="9.2" fill="#333" text-anchor="middle">2000</text>
<text transform="matrix(1.0000,0.4200,-0.6000,0.6200,357.80,554.10)" font-family="Liberation Sans, sans-serif" font-size="9.2" fill="#333" text-anchor="middle">1500</text>
<text transform="matrix(1.0000,0.4200,-0.6000,0.6200,429.40,583.00)" font-family="Liberation Sans, sans-serif" font-size="9.2" fill="#333" text-anchor="middle">1000</text>
<text transform="matrix(0.9140,-0.5760,0.3900,0.6750,165.40,388.30)" font-family="Liberation Sans, sans-serif" font-size="11" fill="#222" stroke="#222" stroke-width="0.25">Absorbance</text>
<text transform="matrix(1.0000,0.3770,-0.5800,0.6500,243.60,524.20)" font-family="Liberation Sans, sans-serif" font-size="10.2" fill="#222">Wavenumbers (cm<tspan font-size="7" dy="-4">-1</tspan><tspan dy="4">)</tspan></text>
<text transform="matrix(1.0000,0.3900,-0.6000,0.6600,416.60,383.00)" font-family="Liberation Sans, sans-serif" font-size="10.4" fill="#1a1a1a" stroke="#1a1a1a" stroke-width="0.15">Linked FTIR spectrum at elution volume 5.7 mL</text>
<text transform="matrix(0.9506,0.4233,-0.4070,0.9140,224.20,553.20)" font-family="Liberation Sans, sans-serif" font-size="24" fill="#0e720e">FTIR</text>
<ellipse cx="244" cy="195.1" rx="30.5" ry="55.5" fill="none" stroke="#0f3210" stroke-width="2.4" stroke-dasharray="1.75 2.2"/>
<defs><linearGradient id="rg" gradientUnits="userSpaceOnUse" x1="250" y1="0" x2="690" y2="0"><stop offset="0" stop-color="#d57272"/><stop offset="0.4" stop-color="#e27c7c"/><stop offset="1" stop-color="#f49292"/></linearGradient>
<linearGradient id="gg" gradientUnits="userSpaceOnUse" x1="0" y1="205" x2="0" y2="440"><stop offset="0" stop-color="#76bc46"/><stop offset="0.25" stop-color="#80c850"/><stop offset="1" stop-color="#8ad85c"/></linearGradient></defs>
<path d="M246.5,213.2 C246.8,212.2 247.4,208.9 248.0,207.1 C248.6,205.2 249.0,203.9 250.0,202.1 C251.0,200.3 252.3,197.9 254.0,196.1 C255.7,194.3 258.1,192.6 260.1,191.1 C262.1,189.6 263.9,188.4 266.1,187.3 C268.3,186.2 270.4,185.6 273.1,184.7 C275.8,183.8 279.2,182.8 282.1,182.0 C285.0,181.2 287.2,180.6 290.2,179.9 C293.2,179.2 295.9,178.6 300.0,177.9 C304.1,177.2 309.9,176.2 315.0,175.5 C320.1,174.8 324.0,174.3 330.3,173.9 C336.6,173.5 346.2,173.1 352.8,173.0 C359.4,172.9 365.5,173.3 370.0,173.6 C374.5,173.9 375.0,174.3 380.0,174.9 C385.0,175.5 391.7,175.9 400.0,177.0 C408.3,178.1 421.7,179.9 430.0,181.2 C438.3,182.5 441.7,182.8 450.0,184.7 C458.3,186.6 470.0,189.9 480.0,192.5 C490.0,195.1 501.7,198.0 510.0,200.5 C518.3,203.0 523.3,204.7 530.0,207.3 C536.7,209.9 543.3,213.2 550.0,216.2 C556.7,219.1 563.3,221.9 570.0,225.0 C576.7,228.1 583.5,231.3 590.0,234.5 C596.5,237.7 604.0,241.3 609.0,244.1 C614.0,246.8 615.9,248.4 620.0,251.0 C624.1,253.6 628.9,256.4 633.4,259.4 C637.9,262.3 642.8,265.6 646.8,268.7 C650.8,271.8 654.4,275.0 657.5,278.1 C660.6,281.2 663.3,284.6 665.5,287.5 C667.7,290.4 669.2,292.9 670.8,295.5 C672.3,298.1 674.1,301.6 674.8,302.8 L686.2,304.8 L672.8,319.6 L651.4,296.2 L660.1,298.2 L660.1,298.2 C659.2,296.4 657.0,291.1 654.8,287.5 C652.6,283.9 649.9,280.4 646.8,276.8 C643.7,273.2 639.7,269.2 636.1,266.1 C632.5,263.0 628.4,259.9 625.4,258.0 C622.4,256.1 620.7,255.8 618.0,254.5 C615.3,253.2 613.7,252.6 609.0,250.1 C604.3,247.6 596.5,242.9 590.0,239.5 C583.5,236.1 576.7,232.6 570.0,229.4 C563.3,226.2 556.7,223.3 550.0,220.2 C543.3,217.1 536.7,213.7 530.0,211.0 C523.3,208.3 518.3,206.4 510.0,203.8 C501.7,201.2 490.0,198.0 480.0,195.3 C470.0,192.6 458.3,189.5 450.0,187.6 C441.7,185.7 438.3,185.2 430.0,184.0 C421.7,182.8 408.3,181.1 400.0,180.2 C391.7,179.3 386.7,178.8 380.0,178.4 C373.3,178.0 366.4,177.6 360.0,177.6 C353.6,177.6 349.2,177.7 341.6,178.4 C334.0,179.1 321.4,180.4 314.5,181.8 C307.6,183.2 304.4,185.1 300.0,186.6 C295.6,188.1 291.5,189.3 288.2,190.6 C284.9,191.8 282.6,192.8 280.1,194.1 C277.6,195.3 275.3,196.6 273.1,198.1 C270.9,199.6 268.8,201.6 267.1,203.1 C265.4,204.6 264.3,205.6 263.1,207.1 C261.9,208.6 260.9,210.6 260.1,212.2 C259.4,213.8 258.9,215.9 258.6,216.7 Z" fill="url(#rg)" filter="url(#sh)"/>
<path d="M260.6,204.6 C262.1,204.5 266.5,203.8 269.7,203.6 C273.0,203.4 276.6,203.4 280.1,203.5 C283.6,203.6 287.2,203.7 290.7,204.4 C294.2,205.1 297.7,206.3 301.2,207.6 C304.7,208.9 308.3,210.4 311.9,211.9 C315.5,213.5 318.8,214.6 322.7,216.8 C326.5,218.9 331.6,222.1 335.0,224.8 C338.5,227.4 340.8,229.8 343.6,232.5 C346.4,235.2 349.7,238.5 351.9,241.2 C354.2,243.9 355.6,246.0 357.2,248.5 C358.9,251.1 360.5,253.9 362.0,256.6 C363.5,259.3 365.0,261.9 366.5,264.7 C368.0,267.6 369.5,270.7 371.0,273.8 C372.4,277.0 373.7,280.2 374.9,283.5 C376.1,286.8 377.2,290.3 378.1,293.6 C379.0,297.0 379.7,300.0 380.3,303.8 C381.0,307.6 381.5,312.2 382.0,316.6 C382.5,320.9 383.0,325.7 383.3,329.9 C383.6,334.1 384.0,338.1 384.0,341.8 C384.0,345.6 383.8,348.8 383.5,352.3 C383.1,355.7 382.8,359.2 382.0,362.6 C381.2,366.1 380.0,369.6 378.7,373.0 C377.5,376.3 376.1,379.6 374.5,382.8 C372.9,385.9 371.1,389.0 369.1,392.0 C367.2,395.1 365.1,398.1 362.7,401.0 C360.3,403.8 357.4,406.4 354.6,408.9 C351.7,411.5 348.4,414.0 345.7,416.3 C342.9,418.5 340.3,420.4 338.0,422.6 C335.8,424.9 333.2,428.6 332.2,429.8 L332.4,446.8 L305.3,434.8 L323.7,406.9 L325.6,423.2 C326.8,422.2 330.3,419.0 333.0,417.0 C335.6,414.9 338.4,412.9 341.3,410.7 C344.3,408.6 347.6,406.4 350.4,404.1 C353.2,401.8 356.0,399.6 358.3,397.0 C360.6,394.5 362.6,391.8 364.5,389.0 C366.3,386.2 368.0,383.2 369.5,380.2 C371.0,377.2 372.4,374.2 373.7,371.0 C375.0,367.9 376.3,364.6 377.2,361.4 C378.1,358.2 378.6,355.0 379.1,351.7 C379.6,348.5 380.0,345.4 380.2,341.8 C380.4,338.1 380.4,334.2 380.3,330.1 C380.2,325.9 380.0,321.1 379.6,316.8 C379.2,312.5 378.5,308.0 377.9,304.2 C377.2,300.5 376.5,297.6 375.5,294.4 C374.5,291.1 373.3,287.7 372.1,284.5 C370.9,281.3 369.5,278.2 368.0,275.2 C366.6,272.1 365.0,269.1 363.5,266.3 C362.0,263.5 360.6,260.9 359.0,258.4 C357.4,255.9 355.6,253.3 353.8,251.1 C351.9,248.8 350.5,247.1 348.1,244.8 C345.7,242.5 342.3,239.5 339.4,237.1 C336.6,234.7 334.3,232.8 331.0,230.4 C327.6,228.1 322.8,225.2 319.1,223.2 C315.5,221.3 312.5,220.1 309.1,218.7 C305.7,217.3 302.1,215.8 298.8,214.8 C295.5,213.8 292.5,212.9 289.3,212.4 C286.2,211.9 283.1,211.9 279.9,211.9 C276.7,211.9 273.3,212.0 270.3,212.2 C267.2,212.4 263.0,213.0 261.6,213.2 Z" fill="url(#gg)" filter="url(#sh)"/>
<path d="M261.6,213.2 C263.0,213.0 267.2,212.4 270.3,212.2 C273.3,212.0 276.7,211.9 279.9,211.9 C283.1,211.9 286.2,211.9 289.3,212.4 C292.5,212.9 295.5,213.8 298.8,214.8 C302.1,215.8 305.7,217.3 309.1,218.7 C312.5,220.1 315.5,221.3 319.1,223.2 C322.8,225.2 329.0,229.2 331.0,230.4" fill="none" stroke="#4f8f2f" stroke-width="1.1"/>
<polygon points="448.0,53.6 454.0,56.0 454.0,63.0 448.0,60.6" fill="#000"/>
<polygon points="448.2,79.0 453.8,81.1 453.8,85.6 448.2,83.5" fill="#1a8a8a"/>
<polygon points="448.0,143.3 454.0,145.7 454.0,150.7 448.0,148.3" fill="#0000ff"/><polygon points="448.0,148.3 454.0,150.7 454.0,153.7 448.0,151.3" fill="#ff0000"/>
<polygon points="451.5,176.5 455.8,186.2 447.2,182.8" fill="#000"/>
<polygon points="451.5,184.5 455.8,194.2 447.2,190.8" fill="#1a8a8a"/>
<polygon points="451.4,223.6 455.7,233.3 447.1,229.9" fill="#0000ff"/>
<polygon points="575.0,97.2 581.0,99.6 581.0,106.6 575.0,104.2" fill="#000"/>
<polygon points="575.2,203.4 580.8,205.5 580.8,210.0 575.2,207.9" fill="#1a8a8a"/>
<polygon points="574.7,293.8 580.7,296.2 580.7,300.7 574.7,298.3" fill="#ff0000"/><polygon points="574.7,298.3 580.7,300.7 580.7,307.2 574.7,304.8" fill="#0000ff"/>
<polygon points="578.4,318.5 582.7,328.2 574.1,324.8" fill="#0000ff"/>
<polygon points="578.3,222.4 582.6,232.1 574.0,228.7" fill="#000"/>
<polygon points="578.3,234.7 582.6,244.4 574.0,241.0" fill="#1a8a8a"/>
<polygon points="578.4,325.5 582.7,335.2 574.1,331.8" fill="#ff0000"/>
<polygon points="670.8,238.7 675.8,240.7 675.8,244.7 670.8,242.7" fill="#1a8a8a"/>
<polygon points="673.7,271.8 678.0,281.5 669.4,278.1" fill="#1a8a8a"/>
<polygon points="670.3,321.3 676.3,323.7 676.3,327.2 670.3,324.8" fill="#0000ff"/><polygon points="670.3,324.8 676.3,327.2 676.3,333.2 670.3,330.8" fill="#ff0000"/>
<polygon points="673.8,341.3 678.1,351.0 669.5,347.6" fill="#0000ff"/>
</svg>
</body></html>
